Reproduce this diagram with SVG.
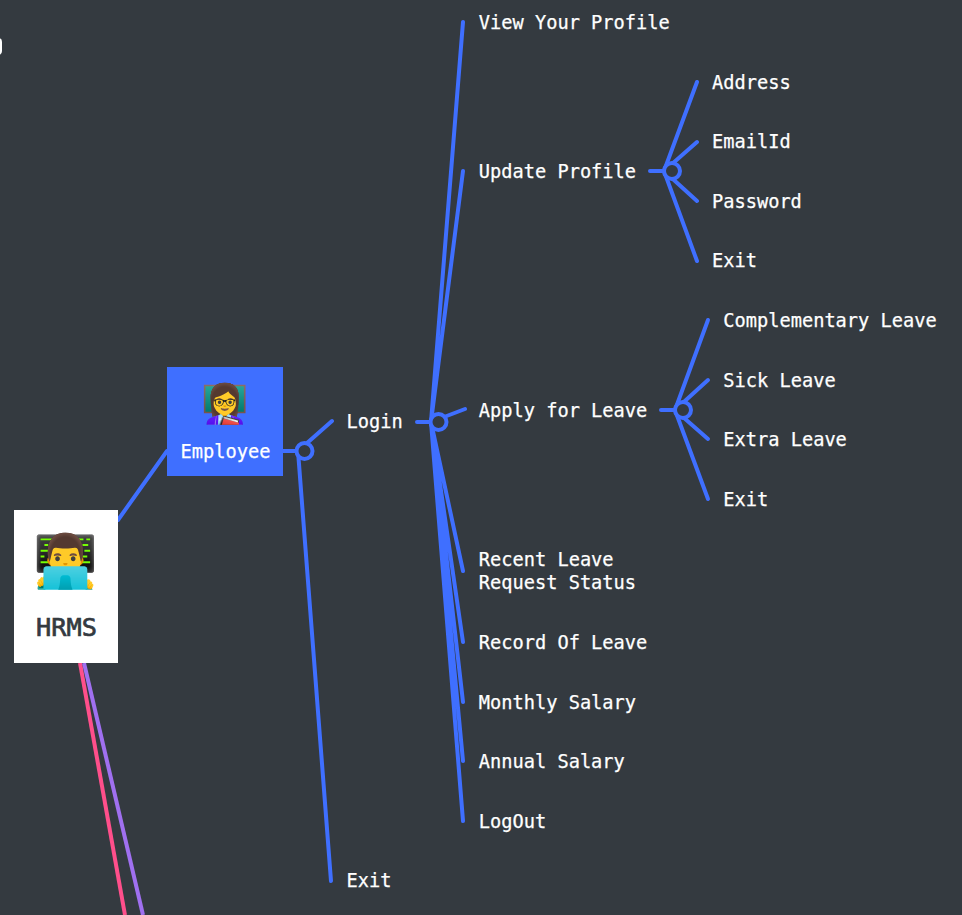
<svg xmlns="http://www.w3.org/2000/svg" width="962" height="915" viewBox="0 0 962 915">
<style>
.bg{fill:#343a40}
text{font-family:"DejaVu Sans Mono","Liberation Mono",monospace;font-size:18.67px;fill:#fff;stroke:#fff;stroke-width:.25px}
.l{fill:none;stroke:#3f6fff;stroke-width:4;stroke-linecap:round}
.c{fill:#343a40;stroke:#3f6fff;stroke-width:4}
text.e{font-family:"Noto Color Emoji","Apple Color Emoji","Noto Sans",sans-serif;text-anchor:middle;stroke:none}
</style>
<rect class="bg" width="962" height="915"/>
<rect x="-6" y="38" width="8" height="17" rx="4" fill="#fff"/>
<g id="connectors">
<path d="M80 663L125 915" fill="none" stroke="#ff4f8b" stroke-width="4"/>
<path d="M84 663L143 915" fill="none" stroke="#a070f0" stroke-width="4"/>
<path class="l" d="M118 520L167 451"/>
<path class="l" d="M283 451H297M298 451L331 881M298 451L332 421"/>
<circle class="c" cx="304.500" cy="451" r="8"/>
<path class="l" d="M417 422H431M431 422L463 22M431 422L463 171M431 422L463 571M431 422L463 642M431 422L463 702M431 422L463 761M431 422L463 821M431 422L465 409"/>
<circle class="c" cx="438.500" cy="422" r="8"/>
<path class="l" d="M650 171H664M664 171L697 82M664 171L697 142M664 171L697 201M664 171L697 261"/>
<circle class="c" cx="672" cy="171" r="8"/>
<path class="l" d="M661 410H675M675 410L708 320M675 410L708 380M675 410L708 439M675 410L708 499"/>
<circle class="c" cx="683" cy="410" r="8"/>
</g>
<g id="hrms"><rect x="14" y="510" width="104" height="153" fill="#fff"/><text class="e" x="66" y="579" style="font-size:52px">👨‍💻</text><text x="66.500" y="636" text-anchor="middle" style="font-size:25.300px;fill:#343a40;stroke:#343a40;stroke-width:.7px">HRMS</text></g>
<g id="employee"><rect x="167" y="367" width="116" height="109" fill="#3f6fff"/><text class="e" x="225.500" y="417" style="font-size:38px">👩‍🏫</text><text x="225.500" y="458" text-anchor="middle">Employee</text></g>
<g id="login"><text x="346.500" y="428">Login</text></g>
<g id="exit1"><text x="346.500" y="887">Exit</text></g>
<g id="view"><text x="478.800" y="29">View Your Profile</text></g>
<g id="update"><text x="478.800" y="178">Update Profile</text></g>
<g id="apply"><text x="478.800" y="417">Apply for Leave</text></g>
<g id="recent"><text x="478.800" y="566">Recent Leave</text><text x="478.800" y="589">Request Status</text></g>
<g id="record"><text x="478.800" y="649">Record Of Leave</text></g>
<g id="monthly"><text x="478.800" y="709">Monthly Salary</text></g>
<g id="annual"><text x="478.800" y="768">Annual Salary</text></g>
<g id="logout"><text x="478.800" y="828">LogOut</text></g>
<g id="address"><text x="712" y="89">Address</text></g>
<g id="email"><text x="712" y="148">EmailId</text></g>
<g id="password"><text x="712" y="208">Password</text></g>
<g id="exit2"><text x="712" y="267">Exit</text></g>
<g id="comp"><text x="723.300" y="327">Complementary Leave</text></g>
<g id="sick"><text x="723.300" y="387">Sick Leave</text></g>
<g id="extra"><text x="723.300" y="446">Extra Leave</text></g>
<g id="exit3"><text x="723.300" y="506">Exit</text></g>
</svg>
